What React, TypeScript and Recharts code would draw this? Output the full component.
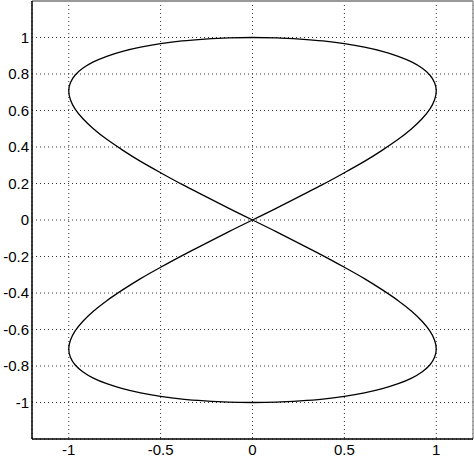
import React from 'react';
import { LineChart, Line, XAxis, YAxis, CartesianGrid, ReferenceLine } from 'recharts';

// Points (traversed in order, four quarters)
const xQ1 = [0.131, 0.259, 0.383, 0.5, 0.609, 0.707, 0.793, 0.866, 0.924, 0.966, 0.991, 1, 0.991, 0.966, 0.924, 0.866, 0.793, 0.707, 0.609, 0.5, 0.383, 0.259, 0.131, 0];
const yQ1 = [0.065, 0.131, 0.195, 0.259, 0.321, 0.383, 0.442, 0.5, 0.556, 0.609, 0.659, 0.707, 0.752, 0.793, 0.831, 0.866, 0.897, 0.924, 0.947, 0.966, 0.981, 0.991, 0.998, 1];
const xQ2 = [-0.131, -0.259, -0.383, -0.5, -0.609, -0.707, -0.793, -0.866, -0.924, -0.966, -0.991, -1, -0.991, -0.966, -0.924, -0.866, -0.793, -0.707, -0.609, -0.5, -0.383, -0.259, -0.131, 0];
const yQ2 = [0.998, 0.991, 0.981, 0.966, 0.947, 0.924, 0.897, 0.866, 0.831, 0.793, 0.752, 0.707, 0.659, 0.609, 0.556, 0.5, 0.442, 0.383, 0.321, 0.259, 0.195, 0.131, 0.065, 0];
const xQ3 = [0.131, 0.259, 0.383, 0.5, 0.609, 0.707, 0.793, 0.866, 0.924, 0.966, 0.991, 1, 0.991, 0.966, 0.924, 0.866, 0.793, 0.707, 0.609, 0.5, 0.383, 0.259, 0.131, 0];
const yQ3 = [-0.065, -0.131, -0.195, -0.259, -0.321, -0.383, -0.442, -0.5, -0.556, -0.609, -0.659, -0.707, -0.752, -0.793, -0.831, -0.866, -0.897, -0.924, -0.947, -0.966, -0.981, -0.991, -0.998, -1];
const xQ4 = [-0.131, -0.259, -0.383, -0.5, -0.609, -0.707, -0.793, -0.866, -0.924, -0.966, -0.991, -1, -0.991, -0.966, -0.924, -0.866, -0.793, -0.707, -0.609, -0.5, -0.383, -0.259, -0.131, 0];
const yQ4 = [-0.998, -0.991, -0.981, -0.966, -0.947, -0.924, -0.897, -0.866, -0.831, -0.793, -0.752, -0.707, -0.659, -0.609, -0.556, -0.5, -0.442, -0.383, -0.321, -0.259, -0.195, -0.131, -0.065, 0];

const xValues = [0, ...xQ1, ...xQ2, ...xQ3, ...xQ4];
const yValues = [0, ...yQ1, ...yQ2, ...yQ3, ...yQ4];

const xTicks = [-1, -0.5, 0, 0.5, 1];
const yTicks = [-1, -0.8, -0.6, -0.4, -0.2, 0, 0.2, 0.4, 0.6, 0.8, 1];
const domain: [number, number] = [-1.2, 1.2];

const data = xValues.map((x, i) => ({ x, y: yValues[i] }));

const font = { fontFamily: '"Liberation Sans", Arial, sans-serif', fontSize: 15, fill: '#000' };
const blank = () => '';

export default function App() {
  return (
    <div style={{ position: 'absolute', left: 0, top: 0 }}>
      <LineChart width={474} height={457} data={data} margin={{ top: 1, right: 1, bottom: 0, left: 0 }}>
        <CartesianGrid stroke="#333" strokeDasharray="1 3" strokeWidth={1} />
        <XAxis
          dataKey="x"
          type="number"
          domain={domain}
          ticks={xTicks}
          height={18}
          tickSize={0}
          tickMargin={5}
          axisLine={{ stroke: '#000', strokeWidth: 1.5 }}
          tick={font}
          allowDataOverflow
        />
        <YAxis
          dataKey="y"
          type="number"
          domain={domain}
          ticks={yTicks}
          width={32}
          tickSize={0}
          tickMargin={3}
          axisLine={{ stroke: '#000', strokeWidth: 1.5 }}
          tick={font}
          allowDataOverflow
        />
        {/* inward tick marks on all four sides */}
        <XAxis xAxisId="bIn" orientation="bottom" mirror type="number" domain={domain} ticks={xTicks}
          height={0} tickSize={4} tickFormatter={blank} axisLine={false} tickLine={{ stroke: '#000' }} allowDataOverflow />
        <XAxis xAxisId="tIn" orientation="top" mirror type="number" domain={domain} ticks={xTicks}
          height={0} tickSize={4} tickFormatter={blank} axisLine={false} tickLine={{ stroke: '#000' }} allowDataOverflow />
        <YAxis yAxisId="lIn" orientation="left" mirror type="number" domain={domain} ticks={yTicks}
          width={0} tickSize={4} tickFormatter={blank} axisLine={false} tickLine={{ stroke: '#000' }} allowDataOverflow />
        <YAxis yAxisId="rIn" orientation="right" mirror type="number" domain={domain} ticks={yTicks}
          width={0} tickSize={4} tickFormatter={blank} axisLine={false} tickLine={{ stroke: '#000' }} allowDataOverflow />
        <ReferenceLine y={1.2} stroke="#999" strokeWidth={2} />
        <ReferenceLine x={1.2} stroke="#999" strokeWidth={1.5} />
        <Line
          type="natural"
          dataKey="y"
          stroke="#000"
          strokeWidth={1.3}
          dot={false}
          isAnimationActive={false}
        />
      </LineChart>
    </div>
  );
}
